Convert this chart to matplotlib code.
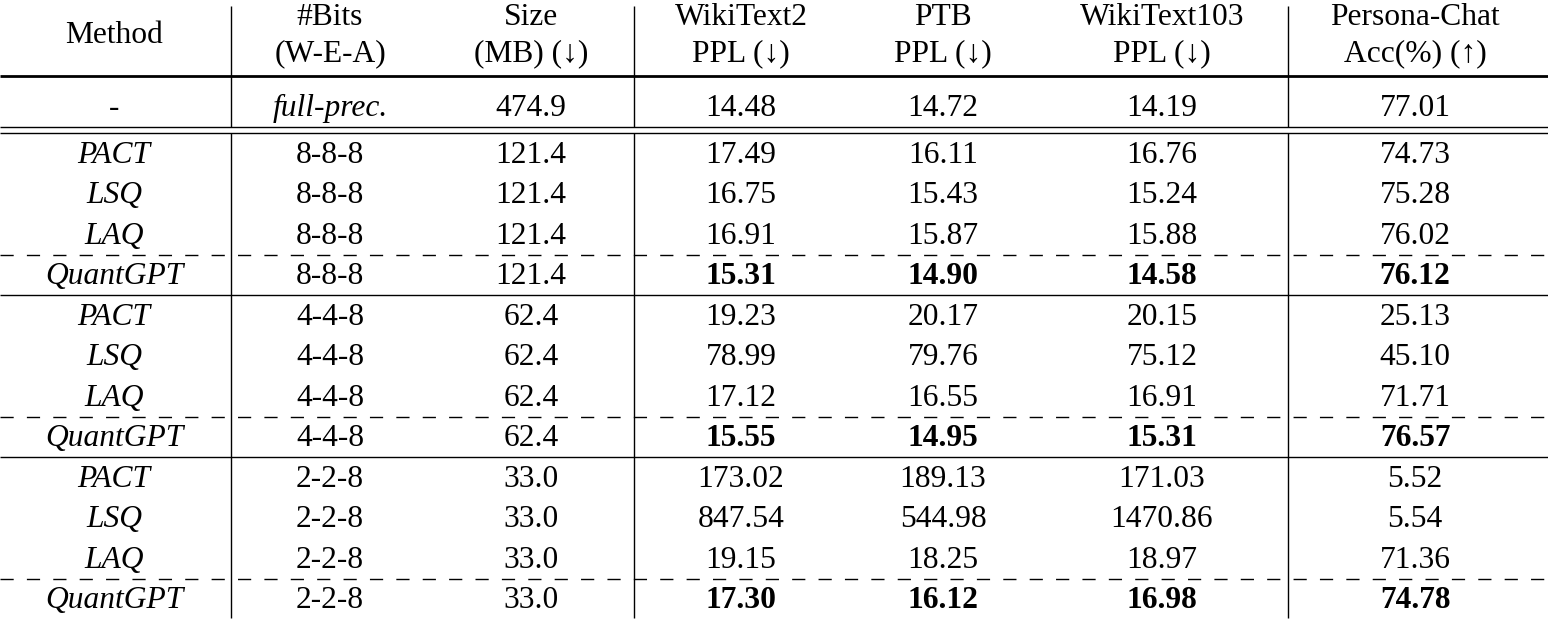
import matplotlib.pyplot as plt

plt.rcParams['font.family'] = ['Liberation Serif', 'DejaVu Serif']
plt.rcParams['lines.scale_dashes'] = False

# table contents
header_top = ["#Bits", "Size", "WikiText2", "PTB", "WikiText103", "Persona-Chat"]
header_bottom = ["(W-E-A)", "(MB) (\u2193)", "PPL (\u2193)", "PPL (\u2193)", "PPL (\u2193)", "Acc(%) (\u2191)"]

full_prec = ["-", "full-prec.", "474.9", "14.48", "14.72", "14.19", "77.01"]

methods = ["PACT", "LSQ", "LAQ", "QuantGPT"] * 3
bits = ["8-8-8"] * 4 + ["4-4-8"] * 4 + ["2-2-8"] * 4
sizes = ["121.4"] * 4 + ["62.4"] * 4 + ["33.0"] * 4
wikitext2 = ["17.49", "16.75", "16.91", "15.31",
             "19.23", "78.99", "17.12", "15.55",
             "173.02", "847.54", "19.15", "17.30"]
ptb = ["16.11", "15.43", "15.87", "14.90",
       "20.17", "79.76", "16.55", "14.95",
       "189.13", "544.98", "18.25", "16.12"]
wikitext103 = ["16.76", "15.24", "15.88", "14.58",
               "20.15", "75.12", "16.91", "15.31",
               "171.03", "1470.86", "18.97", "16.98"]
persona = ["74.73", "75.28", "76.02", "76.12",
           "25.13", "45.10", "71.71", "76.57",
           "5.52", "5.54", "71.36", "74.78"]

# layout (pixel units)
W, H = 1548, 622
col_x = [114, 330, 531, 741, 943, 1162, 1415]
vlines_x = [231, 634, 1288]
fs = 22.7
row0_c = 105
row_c = 152
row_step = 40.5
half = 10.8  # digit centre -> baseline

fig = plt.figure(figsize=(W / 100, H / 100), dpi=100)
ax = fig.add_axes([0, 0, 1, 1])
ax.set_xlim(0, W)
ax.set_ylim(H, 0)
ax.axis('off')


def put(x, y, s, style='normal', weight='normal'):
    ax.text(x, y, s, ha='center', va='baseline', fontsize=fs,
            fontstyle=style, fontweight=weight, color='black')


# header
put(col_x[0], 43, "Method")
for x, t, b in zip(col_x[1:], header_top, header_bottom):
    put(x, 25, t)
    put(x, 61, b)

# full precision row
for j, (x, s) in enumerate(zip(col_x, full_prec)):
    put(x, row0_c + half, s, style='italic' if j == 1 else 'normal')

# quantized rows
for i in range(len(methods)):
    y = row_c + row_step * i + half
    bold = 'bold' if methods[i] == "QuantGPT" else 'normal'
    put(col_x[0], y, methods[i], style='italic')
    put(col_x[1], y, bits[i])
    put(col_x[2], y, sizes[i])
    put(col_x[3], y, wikitext2[i], weight=bold)
    put(col_x[4], y, ptb[i], weight=bold)
    put(col_x[5], y, wikitext103[i], weight=bold)
    put(col_x[6], y, persona[i], weight=bold)

# rules
thin = 1.0
ax.hlines(75.5, 0, W, color='black', lw=2.0)
ax.hlines([126.7, 132.9], 0, W, color='black', lw=thin)
for i in range(len(methods)):
    y = row_c + row_step * i + 21.5
    if i in (2, 6, 10):
        ax.hlines(y, 0, W, color='black', lw=thin, linestyles=(0, (9.5, 9.5)))
    elif i in (3, 7):
        ax.hlines(y, 0, W, color='black', lw=thin)

for x in vlines_x:
    ax.vlines(x, 6, 126.7, color='black', lw=thin)
    ax.vlines(x, 132.9, 618, color='black', lw=thin)

fig.savefig('out.png', dpi=100, facecolor='white')
